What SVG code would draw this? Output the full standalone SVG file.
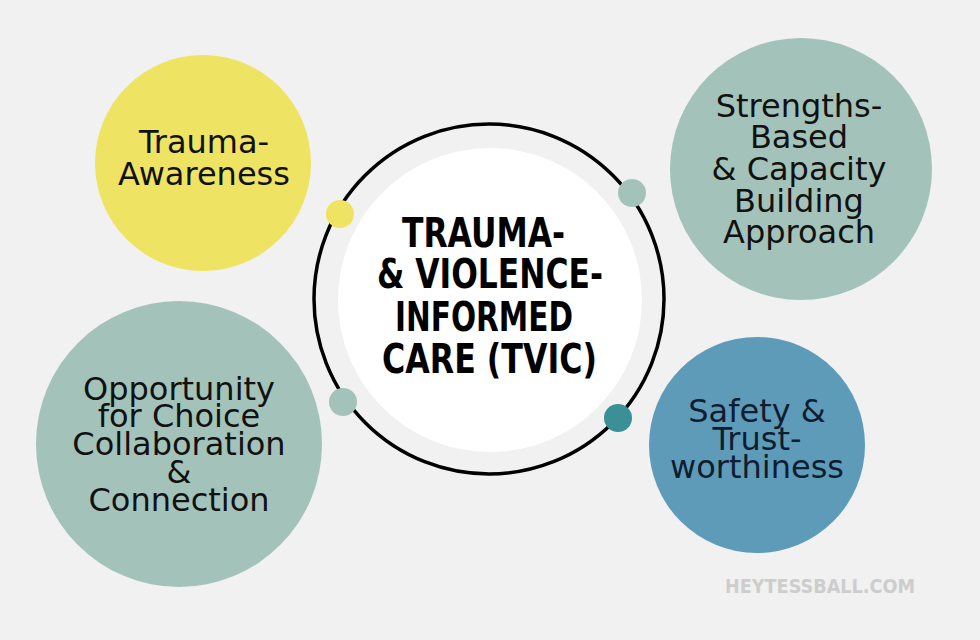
<svg xmlns="http://www.w3.org/2000/svg" width="980" height="640" viewBox="0 0 980 640">
<style>
.lbl{font-family:"DejaVu Sans","Open Sans",sans-serif;font-size:32px;fill:#111;text-anchor:middle}
.title{font-family:"DejaVu Sans","Liberation Sans",sans-serif;font-weight:900;font-size:40px;fill:#000}
.mark{font-family:"DejaVu Sans","Liberation Sans",sans-serif;font-weight:bold;font-size:19px;fill:#cdcdcd}
</style>
<rect width="980" height="640" fill="#f1f1f1"/>
<g id="connectors">
<circle cx="489" cy="299" r="175" fill="none" stroke="#000" stroke-width="3.5"/>
<circle cx="340" cy="214" r="14" fill="#efe363"/>
<circle cx="632" cy="193" r="14" fill="#a3c3ba"/>
<circle cx="343" cy="402" r="14" fill="#a3c3ba"/>
<circle cx="618" cy="418" r="14" fill="#3b9095"/>
</g>
<g id="center">
<circle cx="490" cy="300" r="152" fill="#fff"/>
<text class="title" x="402" y="247" textLength="163" lengthAdjust="spacingAndGlyphs">TRAUMA-</text>
<text class="title" x="377" y="288" textLength="226" lengthAdjust="spacingAndGlyphs">&amp; VIOLENCE-</text>
<text class="title" x="395" y="331" textLength="178" lengthAdjust="spacingAndGlyphs">INFORMED</text>
<text class="title" x="382" y="373" textLength="215" lengthAdjust="spacingAndGlyphs">CARE (TVIC)</text>
</g>
<g id="trauma-awareness">
<circle cx="203" cy="163" r="108" fill="#efe363"/>
<text class="lbl" x="204" y="153">Trauma-</text>
<text class="lbl" x="204" y="185">Awareness</text>
</g>
<g id="strengths-based">
<circle cx="801" cy="169" r="131" fill="#a3c3ba"/>
<text class="lbl" x="799" y="117">Strengths-</text>
<text class="lbl" x="799" y="148">Based</text>
<text class="lbl" x="799" y="180">&amp; Capacity</text>
<text class="lbl" x="799" y="212">Building</text>
<text class="lbl" x="799" y="243">Approach</text>
</g>
<g id="opportunity">
<circle cx="179" cy="444" r="143" fill="#a3c3ba"/>
<text class="lbl" x="179" y="400">Opportunity</text>
<text class="lbl" x="179" y="427">for Choice</text>
<text class="lbl" x="179" y="455">Collaboration</text>
<text class="lbl" x="179" y="483">&amp;</text>
<text class="lbl" x="179" y="511">Connection</text>
</g>
<g id="safety">
<circle cx="757" cy="445" r="108" fill="#5e9bb9"/>
<text class="lbl" x="757" y="422" style="fill:#0f1d30">Safety &amp;</text>
<text class="lbl" x="757" y="450" style="fill:#0f1d30">Trust-</text>
<text class="lbl" x="757" y="478" style="fill:#0f1d30">worthiness</text>
</g>
<text class="mark" x="725" y="593" textLength="190" lengthAdjust="spacingAndGlyphs">HEYTESSBALL.COM</text>
</svg>
